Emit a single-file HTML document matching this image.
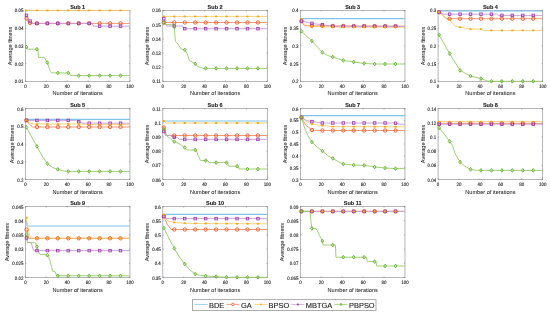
<!DOCTYPE html><html><head><meta charset="utf-8"><style>html,body{margin:0;padding:0;background:#fff;}svg{display:block;will-change:transform;}text{font-family:"Liberation Sans",sans-serif;fill:#262626;stroke-linejoin:round;}.tk{text-rendering:geometricPrecision;font-size:4.45px;fill:#222;stroke:#222;stroke-width:0.1px;}.lb{font-size:5.6px;fill:#2a2a2a;stroke:#2a2a2a;stroke-width:0.05px;}.tt{font-size:5.5px;font-weight:bold;fill:#222;stroke:#222;stroke-width:0.12px;}.lg{font-size:7.45px;fill:#222;stroke:#222;stroke-width:0.12px;}</style></head><body>
<svg width="550" height="315" viewBox="0 0 550 315">
<rect width="550" height="315" fill="#fff"/>
<rect x="25.4" y="10.4" width="104.55" height="71" fill="none" stroke="#9d9da4" stroke-width="0.75"/>
<text class="tk" transform="translate(25.4 88.2) scale(1 1.12)" text-anchor="middle">0</text>
<text class="tk" transform="translate(46.31 88.2) scale(1 1.12)" text-anchor="middle">20</text>
<text class="tk" transform="translate(67.22 88.2) scale(1 1.12)" text-anchor="middle">40</text>
<text class="tk" transform="translate(88.13 88.2) scale(1 1.12)" text-anchor="middle">60</text>
<text class="tk" transform="translate(109.04 88.2) scale(1 1.12)" text-anchor="middle">80</text>
<text class="tk" transform="translate(129.95 88.2) scale(1 1.12)" text-anchor="middle">100</text>
<text class="tk" transform="translate(23.4 12.4) scale(1 1.12)" text-anchor="end">0.05</text>
<text class="tk" transform="translate(23.4 30.15) scale(1 1.12)" text-anchor="end">0.04</text>
<text class="tk" transform="translate(23.4 47.9) scale(1 1.12)" text-anchor="end">0.03</text>
<text class="tk" transform="translate(23.4 65.65) scale(1 1.12)" text-anchor="end">0.02</text>
<text class="tk" transform="translate(23.4 83.4) scale(1 1.12)" text-anchor="end">0.01</text>
<path d="M25.4 81.4v-1M25.4 10.4v1M46.31 81.4v-1M46.31 10.4v1M67.22 81.4v-1M67.22 10.4v1M88.13 81.4v-1M88.13 10.4v1M109.04 81.4v-1M109.04 10.4v1M129.95 81.4v-1M129.95 10.4v1M25.4 10.4h1M129.95 10.4h-1M25.4 28.15h1M129.95 28.15h-1M25.4 45.9h1M129.95 45.9h-1M25.4 63.65h1M129.95 63.65h-1M25.4 81.4h1M129.95 81.4h-1" stroke="#6a6a6a" stroke-width="0.5" fill="none"/>
<g fill="none" stroke-linejoin="round">
<path d="M26.45 18.5 27.49 20.5 28.54 22.5 30.63 23.4 129.95 23.4" stroke="#f4875c" stroke-width="0.85"/>
<path d="M26.45 10.4 129.95 10.4" stroke="#f9cb62" stroke-width="0.85"/>
<path d="M26.45 15.4 27.49 18.5 29.06 21.1 30.63 23.4 92.31 23.4 93.36 26.2 129.95 26.2" stroke="#cb98dc" stroke-width="0.9"/>
<path d="M26.45 47 27.49 49.2 37.95 49.2 38.47 57.4 44.22 57.4 47.36 62.6 50.49 71.8 51.54 72.9 69.31 72.9 70.36 75.6 129.95 75.6" stroke="#96cc66" stroke-width="0.9"/>
</g>
<circle cx="26.45" cy="18.5" r="1.7" fill="none" stroke="#ea5a28" stroke-width="0.9"/>
<circle cx="36.9" cy="23.4" r="1.7" fill="none" stroke="#ea5a28" stroke-width="0.9"/>
<circle cx="47.36" cy="23.4" r="1.7" fill="none" stroke="#ea5a28" stroke-width="0.9"/>
<circle cx="57.81" cy="23.4" r="1.7" fill="none" stroke="#ea5a28" stroke-width="0.9"/>
<circle cx="68.27" cy="23.4" r="1.7" fill="none" stroke="#ea5a28" stroke-width="0.9"/>
<circle cx="78.72" cy="23.4" r="1.7" fill="none" stroke="#ea5a28" stroke-width="0.9"/>
<circle cx="89.18" cy="23.4" r="1.7" fill="none" stroke="#ea5a28" stroke-width="0.9"/>
<circle cx="99.63" cy="23.4" r="1.7" fill="none" stroke="#ea5a28" stroke-width="0.9"/>
<circle cx="110.09" cy="23.4" r="1.7" fill="none" stroke="#ea5a28" stroke-width="0.9"/>
<circle cx="120.54" cy="23.4" r="1.7" fill="none" stroke="#ea5a28" stroke-width="0.9"/>
<rect x="25.2" y="14.15" width="2.5" height="2.5" fill="none" stroke="#9a3aa8" stroke-width="0.85"/>
<rect x="35.65" y="22.15" width="2.5" height="2.5" fill="none" stroke="#9a3aa8" stroke-width="0.85"/>
<rect x="46.11" y="22.15" width="2.5" height="2.5" fill="none" stroke="#9a3aa8" stroke-width="0.85"/>
<rect x="56.56" y="22.15" width="2.5" height="2.5" fill="none" stroke="#9a3aa8" stroke-width="0.85"/>
<rect x="67.02" y="22.15" width="2.5" height="2.5" fill="none" stroke="#9a3aa8" stroke-width="0.85"/>
<rect x="77.47" y="22.15" width="2.5" height="2.5" fill="none" stroke="#9a3aa8" stroke-width="0.85"/>
<rect x="87.93" y="22.15" width="2.5" height="2.5" fill="none" stroke="#9a3aa8" stroke-width="0.85"/>
<rect x="98.38" y="24.95" width="2.5" height="2.5" fill="none" stroke="#9a3aa8" stroke-width="0.85"/>
<rect x="108.84" y="24.95" width="2.5" height="2.5" fill="none" stroke="#9a3aa8" stroke-width="0.85"/>
<rect x="119.29" y="24.95" width="2.5" height="2.5" fill="none" stroke="#9a3aa8" stroke-width="0.85"/>
<ellipse cx="26.45" cy="10.4" rx="1.35" ry="0.95" fill="#f0a818"/>
<ellipse cx="36.9" cy="10.4" rx="1.35" ry="0.95" fill="#f0a818"/>
<ellipse cx="47.36" cy="10.4" rx="1.35" ry="0.95" fill="#f0a818"/>
<ellipse cx="57.81" cy="10.4" rx="1.35" ry="0.95" fill="#f0a818"/>
<ellipse cx="68.27" cy="10.4" rx="1.35" ry="0.95" fill="#f0a818"/>
<ellipse cx="78.72" cy="10.4" rx="1.35" ry="0.95" fill="#f0a818"/>
<ellipse cx="89.18" cy="10.4" rx="1.35" ry="0.95" fill="#f0a818"/>
<ellipse cx="99.63" cy="10.4" rx="1.35" ry="0.95" fill="#f0a818"/>
<ellipse cx="110.09" cy="10.4" rx="1.35" ry="0.95" fill="#f0a818"/>
<ellipse cx="120.54" cy="10.4" rx="1.35" ry="0.95" fill="#f0a818"/>
<path d="M26.45 45.15L27.8 47L26.45 48.85L25.1 47Z" fill="none" stroke="#62b02c" stroke-width="0.9"/>
<path d="M36.9 47.35L38.25 49.2L36.9 51.05L35.55 49.2Z" fill="none" stroke="#62b02c" stroke-width="0.9"/>
<path d="M47.36 60.75L48.71 62.6L47.36 64.45L46.01 62.6Z" fill="none" stroke="#62b02c" stroke-width="0.9"/>
<path d="M57.81 71.05L59.16 72.9L57.81 74.75L56.46 72.9Z" fill="none" stroke="#62b02c" stroke-width="0.9"/>
<path d="M68.27 71.05L69.62 72.9L68.27 74.75L66.92 72.9Z" fill="none" stroke="#62b02c" stroke-width="0.9"/>
<path d="M78.72 73.75L80.07 75.6L78.72 77.45L77.37 75.6Z" fill="none" stroke="#62b02c" stroke-width="0.9"/>
<path d="M89.18 73.75L90.53 75.6L89.18 77.45L87.83 75.6Z" fill="none" stroke="#62b02c" stroke-width="0.9"/>
<path d="M99.63 73.75L100.98 75.6L99.63 77.45L98.28 75.6Z" fill="none" stroke="#62b02c" stroke-width="0.9"/>
<path d="M110.09 73.75L111.44 75.6L110.09 77.45L108.74 75.6Z" fill="none" stroke="#62b02c" stroke-width="0.9"/>
<path d="M120.54 73.75L121.89 75.6L120.54 77.45L119.19 75.6Z" fill="none" stroke="#62b02c" stroke-width="0.9"/>
<circle cx="30.1" cy="22.9" r="1.7" fill="none" stroke="#ea5a28" stroke-width="0.9"/>
<rect x="28.85" y="19.85" width="2.5" height="2.5" fill="none" stroke="#9a3aa8" stroke-width="0.85"/>
<text class="tt" transform="translate(77.67 8.55) scale(1 1.13)" text-anchor="middle">Sub 1</text>
<text class="lb" transform="translate(77.67 95.4) scale(1 1.07)" text-anchor="middle">Number of iterations</text>
<text class="lb" transform="translate(11.84 45.9) rotate(-90)" text-anchor="middle">Average fitness</text>
<rect x="162.8" y="10.4" width="104.55" height="71" fill="none" stroke="#9d9da4" stroke-width="0.75"/>
<text class="tk" transform="translate(162.8 88.2) scale(1 1.12)" text-anchor="middle">0</text>
<text class="tk" transform="translate(183.71 88.2) scale(1 1.12)" text-anchor="middle">20</text>
<text class="tk" transform="translate(204.62 88.2) scale(1 1.12)" text-anchor="middle">40</text>
<text class="tk" transform="translate(225.53 88.2) scale(1 1.12)" text-anchor="middle">60</text>
<text class="tk" transform="translate(246.44 88.2) scale(1 1.12)" text-anchor="middle">80</text>
<text class="tk" transform="translate(267.35 88.2) scale(1 1.12)" text-anchor="middle">100</text>
<text class="tk" transform="translate(160.8 12.4) scale(1 1.12)" text-anchor="end">0.16</text>
<text class="tk" transform="translate(160.8 26.6) scale(1 1.12)" text-anchor="end">0.15</text>
<text class="tk" transform="translate(160.8 40.8) scale(1 1.12)" text-anchor="end">0.14</text>
<text class="tk" transform="translate(160.8 55) scale(1 1.12)" text-anchor="end">0.13</text>
<text class="tk" transform="translate(160.8 69.2) scale(1 1.12)" text-anchor="end">0.12</text>
<text class="tk" transform="translate(160.8 83.4) scale(1 1.12)" text-anchor="end">0.11</text>
<path d="M162.8 81.4v-1M162.8 10.4v1M183.71 81.4v-1M183.71 10.4v1M204.62 81.4v-1M204.62 10.4v1M225.53 81.4v-1M225.53 10.4v1M246.44 81.4v-1M246.44 10.4v1M267.35 81.4v-1M267.35 10.4v1M162.8 10.4h1M267.35 10.4h-1M162.8 24.6h1M267.35 24.6h-1M162.8 38.8h1M267.35 38.8h-1M162.8 53h1M267.35 53h-1M162.8 67.2h1M267.35 67.2h-1M162.8 81.4h1M267.35 81.4h-1" stroke="#6a6a6a" stroke-width="0.5" fill="none"/>
<g fill="none" stroke-linejoin="round">
<path d="M163.85 22.5 267.35 22.5" stroke="#f4875c" stroke-width="0.85"/>
<path d="M163.85 16.4 267.35 16.4" stroke="#f9cb62" stroke-width="0.85"/>
<path d="M163.85 18.8 166.46 26 182.66 26 183.71 28.7 267.35 28.7" stroke="#cb98dc" stroke-width="0.9"/>
<path d="M163.85 22.6 165.41 24.5 173.25 24.8 174.3 26.6 175.35 41.5 177.96 44 181.1 49 184.76 49.8 186.85 53 189.46 60.5 195.21 63.8 197.82 66.3 202.53 68.2 205.67 68.4 267.35 68.4" stroke="#96cc66" stroke-width="0.9"/>
</g>
<circle cx="163.85" cy="22.5" r="1.7" fill="none" stroke="#ea5a28" stroke-width="0.9"/>
<circle cx="174.3" cy="22.5" r="1.7" fill="none" stroke="#ea5a28" stroke-width="0.9"/>
<circle cx="184.76" cy="22.5" r="1.7" fill="none" stroke="#ea5a28" stroke-width="0.9"/>
<circle cx="195.21" cy="22.5" r="1.7" fill="none" stroke="#ea5a28" stroke-width="0.9"/>
<circle cx="205.67" cy="22.5" r="1.7" fill="none" stroke="#ea5a28" stroke-width="0.9"/>
<circle cx="216.12" cy="22.5" r="1.7" fill="none" stroke="#ea5a28" stroke-width="0.9"/>
<circle cx="226.58" cy="22.5" r="1.7" fill="none" stroke="#ea5a28" stroke-width="0.9"/>
<circle cx="237.03" cy="22.5" r="1.7" fill="none" stroke="#ea5a28" stroke-width="0.9"/>
<circle cx="247.49" cy="22.5" r="1.7" fill="none" stroke="#ea5a28" stroke-width="0.9"/>
<circle cx="257.94" cy="22.5" r="1.7" fill="none" stroke="#ea5a28" stroke-width="0.9"/>
<rect x="162.6" y="17.55" width="2.5" height="2.5" fill="none" stroke="#9a3aa8" stroke-width="0.85"/>
<rect x="173.05" y="24.75" width="2.5" height="2.5" fill="none" stroke="#9a3aa8" stroke-width="0.85"/>
<rect x="183.51" y="27.45" width="2.5" height="2.5" fill="none" stroke="#9a3aa8" stroke-width="0.85"/>
<rect x="193.96" y="27.45" width="2.5" height="2.5" fill="none" stroke="#9a3aa8" stroke-width="0.85"/>
<rect x="204.42" y="27.45" width="2.5" height="2.5" fill="none" stroke="#9a3aa8" stroke-width="0.85"/>
<rect x="214.87" y="27.45" width="2.5" height="2.5" fill="none" stroke="#9a3aa8" stroke-width="0.85"/>
<rect x="225.33" y="27.45" width="2.5" height="2.5" fill="none" stroke="#9a3aa8" stroke-width="0.85"/>
<rect x="235.78" y="27.45" width="2.5" height="2.5" fill="none" stroke="#9a3aa8" stroke-width="0.85"/>
<rect x="246.24" y="27.45" width="2.5" height="2.5" fill="none" stroke="#9a3aa8" stroke-width="0.85"/>
<rect x="256.69" y="27.45" width="2.5" height="2.5" fill="none" stroke="#9a3aa8" stroke-width="0.85"/>
<ellipse cx="163.85" cy="16.4" rx="1.35" ry="0.95" fill="#f0a818"/>
<ellipse cx="174.3" cy="16.4" rx="1.35" ry="0.95" fill="#f0a818"/>
<ellipse cx="184.76" cy="16.4" rx="1.35" ry="0.95" fill="#f0a818"/>
<ellipse cx="195.21" cy="16.4" rx="1.35" ry="0.95" fill="#f0a818"/>
<ellipse cx="205.67" cy="16.4" rx="1.35" ry="0.95" fill="#f0a818"/>
<ellipse cx="216.12" cy="16.4" rx="1.35" ry="0.95" fill="#f0a818"/>
<ellipse cx="226.58" cy="16.4" rx="1.35" ry="0.95" fill="#f0a818"/>
<ellipse cx="237.03" cy="16.4" rx="1.35" ry="0.95" fill="#f0a818"/>
<ellipse cx="247.49" cy="16.4" rx="1.35" ry="0.95" fill="#f0a818"/>
<ellipse cx="257.94" cy="16.4" rx="1.35" ry="0.95" fill="#f0a818"/>
<path d="M163.85 20.75L165.2 22.6L163.85 24.45L162.5 22.6Z" fill="none" stroke="#62b02c" stroke-width="0.9"/>
<path d="M174.3 24.75L175.65 26.6L174.3 28.45L172.95 26.6Z" fill="none" stroke="#62b02c" stroke-width="0.9"/>
<path d="M184.76 47.95L186.11 49.8L184.76 51.65L183.41 49.8Z" fill="none" stroke="#62b02c" stroke-width="0.9"/>
<path d="M195.21 61.95L196.56 63.8L195.21 65.65L193.86 63.8Z" fill="none" stroke="#62b02c" stroke-width="0.9"/>
<path d="M205.67 66.55L207.02 68.4L205.67 70.25L204.32 68.4Z" fill="none" stroke="#62b02c" stroke-width="0.9"/>
<path d="M216.12 66.55L217.47 68.4L216.12 70.25L214.77 68.4Z" fill="none" stroke="#62b02c" stroke-width="0.9"/>
<path d="M226.58 66.55L227.93 68.4L226.58 70.25L225.23 68.4Z" fill="none" stroke="#62b02c" stroke-width="0.9"/>
<path d="M237.03 66.55L238.38 68.4L237.03 70.25L235.68 68.4Z" fill="none" stroke="#62b02c" stroke-width="0.9"/>
<path d="M247.49 66.55L248.84 68.4L247.49 70.25L246.14 68.4Z" fill="none" stroke="#62b02c" stroke-width="0.9"/>
<path d="M257.94 66.55L259.29 68.4L257.94 70.25L256.59 68.4Z" fill="none" stroke="#62b02c" stroke-width="0.9"/>
<text class="tt" transform="translate(215.08 8.55) scale(1 1.13)" text-anchor="middle">Sub 2</text>
<text class="lb" transform="translate(215.08 95.4) scale(1 1.07)" text-anchor="middle">Number of iterations</text>
<text class="lb" transform="translate(149.24 45.9) rotate(-90)" text-anchor="middle">Average fitness</text>
<rect x="300.4" y="10.4" width="104.55" height="71" fill="none" stroke="#9d9da4" stroke-width="0.75"/>
<text class="tk" transform="translate(300.4 88.2) scale(1 1.12)" text-anchor="middle">0</text>
<text class="tk" transform="translate(321.31 88.2) scale(1 1.12)" text-anchor="middle">20</text>
<text class="tk" transform="translate(342.22 88.2) scale(1 1.12)" text-anchor="middle">40</text>
<text class="tk" transform="translate(363.13 88.2) scale(1 1.12)" text-anchor="middle">60</text>
<text class="tk" transform="translate(384.04 88.2) scale(1 1.12)" text-anchor="middle">80</text>
<text class="tk" transform="translate(404.95 88.2) scale(1 1.12)" text-anchor="middle">100</text>
<text class="tk" transform="translate(298.4 12.4) scale(1 1.12)" text-anchor="end">0.4</text>
<text class="tk" transform="translate(298.4 30.15) scale(1 1.12)" text-anchor="end">0.35</text>
<text class="tk" transform="translate(298.4 47.9) scale(1 1.12)" text-anchor="end">0.3</text>
<text class="tk" transform="translate(298.4 65.65) scale(1 1.12)" text-anchor="end">0.25</text>
<text class="tk" transform="translate(298.4 83.4) scale(1 1.12)" text-anchor="end">0.2</text>
<path d="M300.4 81.4v-1M300.4 10.4v1M321.31 81.4v-1M321.31 10.4v1M342.22 81.4v-1M342.22 10.4v1M363.13 81.4v-1M363.13 10.4v1M384.04 81.4v-1M384.04 10.4v1M404.95 81.4v-1M404.95 10.4v1M300.4 10.4h1M404.95 10.4h-1M300.4 28.15h1M404.95 28.15h-1M300.4 45.9h1M404.95 45.9h-1M300.4 63.65h1M404.95 63.65h-1M300.4 81.4h1M404.95 81.4h-1" stroke="#6a6a6a" stroke-width="0.5" fill="none"/>
<g fill="none" stroke-linejoin="round">
<path d="M301.45 18.6 404.95 18.6" stroke="#80c4ec" stroke-width="1.1"/>
<path d="M301.45 21.1 302.49 23.5 304.58 25.8 404.95 26.2" stroke="#f4875c" stroke-width="0.85"/>
<path d="M301.45 18.6 302.49 22 304.58 24.8 310.85 26 321.31 26.8 342.22 27.2 404.95 27.2" stroke="#f9cb62" stroke-width="0.85"/>
<path d="M301.45 21.1 311.9 23.4 322.36 24.8 332.81 26.3 404.95 26.4" stroke="#cb98dc" stroke-width="0.9"/>
<path d="M301.45 31.4 311.9 41 322.36 52.4 327.58 55.5 332.81 57 343.27 60.4 353.72 62 364.18 63.4 374.63 64 404.95 64" stroke="#96cc66" stroke-width="0.9"/>
</g>
<circle cx="301.45" cy="21.1" r="1.7" fill="none" stroke="#ea5a28" stroke-width="0.9"/>
<circle cx="311.9" cy="25.83" r="1.7" fill="none" stroke="#ea5a28" stroke-width="0.9"/>
<circle cx="322.36" cy="25.87" r="1.7" fill="none" stroke="#ea5a28" stroke-width="0.9"/>
<circle cx="332.81" cy="25.91" r="1.7" fill="none" stroke="#ea5a28" stroke-width="0.9"/>
<circle cx="343.27" cy="25.95" r="1.7" fill="none" stroke="#ea5a28" stroke-width="0.9"/>
<circle cx="353.72" cy="26" r="1.7" fill="none" stroke="#ea5a28" stroke-width="0.9"/>
<circle cx="364.18" cy="26.04" r="1.7" fill="none" stroke="#ea5a28" stroke-width="0.9"/>
<circle cx="374.63" cy="26.08" r="1.7" fill="none" stroke="#ea5a28" stroke-width="0.9"/>
<circle cx="385.09" cy="26.12" r="1.7" fill="none" stroke="#ea5a28" stroke-width="0.9"/>
<circle cx="395.54" cy="26.16" r="1.7" fill="none" stroke="#ea5a28" stroke-width="0.9"/>
<rect x="300.2" y="19.85" width="2.5" height="2.5" fill="none" stroke="#9a3aa8" stroke-width="0.85"/>
<rect x="310.65" y="22.15" width="2.5" height="2.5" fill="none" stroke="#9a3aa8" stroke-width="0.85"/>
<rect x="321.11" y="23.55" width="2.5" height="2.5" fill="none" stroke="#9a3aa8" stroke-width="0.85"/>
<rect x="331.56" y="25.05" width="2.5" height="2.5" fill="none" stroke="#9a3aa8" stroke-width="0.85"/>
<rect x="342.02" y="25.06" width="2.5" height="2.5" fill="none" stroke="#9a3aa8" stroke-width="0.85"/>
<rect x="352.47" y="25.08" width="2.5" height="2.5" fill="none" stroke="#9a3aa8" stroke-width="0.85"/>
<rect x="362.93" y="25.09" width="2.5" height="2.5" fill="none" stroke="#9a3aa8" stroke-width="0.85"/>
<rect x="373.38" y="25.11" width="2.5" height="2.5" fill="none" stroke="#9a3aa8" stroke-width="0.85"/>
<rect x="383.84" y="25.12" width="2.5" height="2.5" fill="none" stroke="#9a3aa8" stroke-width="0.85"/>
<rect x="394.29" y="25.14" width="2.5" height="2.5" fill="none" stroke="#9a3aa8" stroke-width="0.85"/>
<ellipse cx="301.45" cy="18.6" rx="1.35" ry="0.95" fill="#f0a818"/>
<ellipse cx="311.9" cy="26.08" rx="1.35" ry="0.95" fill="#f0a818"/>
<ellipse cx="322.36" cy="26.82" rx="1.35" ry="0.95" fill="#f0a818"/>
<ellipse cx="332.81" cy="27.02" rx="1.35" ry="0.95" fill="#f0a818"/>
<ellipse cx="343.27" cy="27.2" rx="1.35" ry="0.95" fill="#f0a818"/>
<ellipse cx="353.72" cy="27.2" rx="1.35" ry="0.95" fill="#f0a818"/>
<ellipse cx="364.18" cy="27.2" rx="1.35" ry="0.95" fill="#f0a818"/>
<ellipse cx="374.63" cy="27.2" rx="1.35" ry="0.95" fill="#f0a818"/>
<ellipse cx="385.09" cy="27.2" rx="1.35" ry="0.95" fill="#f0a818"/>
<ellipse cx="395.54" cy="27.2" rx="1.35" ry="0.95" fill="#f0a818"/>
<path d="M301.45 29.55L302.8 31.4L301.45 33.25L300.1 31.4Z" fill="none" stroke="#62b02c" stroke-width="0.9"/>
<path d="M311.9 39.15L313.25 41L311.9 42.85L310.55 41Z" fill="none" stroke="#62b02c" stroke-width="0.9"/>
<path d="M322.36 50.55L323.71 52.4L322.36 54.25L321.01 52.4Z" fill="none" stroke="#62b02c" stroke-width="0.9"/>
<path d="M332.81 55.15L334.16 57L332.81 58.85L331.46 57Z" fill="none" stroke="#62b02c" stroke-width="0.9"/>
<path d="M343.27 58.55L344.62 60.4L343.27 62.25L341.92 60.4Z" fill="none" stroke="#62b02c" stroke-width="0.9"/>
<path d="M353.72 60.15L355.07 62L353.72 63.85L352.37 62Z" fill="none" stroke="#62b02c" stroke-width="0.9"/>
<path d="M364.18 61.55L365.53 63.4L364.18 65.25L362.83 63.4Z" fill="none" stroke="#62b02c" stroke-width="0.9"/>
<path d="M374.63 62.15L375.98 64L374.63 65.85L373.28 64Z" fill="none" stroke="#62b02c" stroke-width="0.9"/>
<path d="M385.09 62.15L386.44 64L385.09 65.85L383.74 64Z" fill="none" stroke="#62b02c" stroke-width="0.9"/>
<path d="M395.54 62.15L396.89 64L395.54 65.85L394.19 64Z" fill="none" stroke="#62b02c" stroke-width="0.9"/>
<text class="tt" transform="translate(352.67 8.55) scale(1 1.13)" text-anchor="middle">Sub 3</text>
<text class="lb" transform="translate(352.67 95.4) scale(1 1.07)" text-anchor="middle">Number of iterations</text>
<text class="lb" transform="translate(286.84 45.9) rotate(-90)" text-anchor="middle">Average fitness</text>
<rect x="438.1" y="10.4" width="104.55" height="71" fill="none" stroke="#9d9da4" stroke-width="0.75"/>
<text class="tk" transform="translate(438.1 88.2) scale(1 1.12)" text-anchor="middle">0</text>
<text class="tk" transform="translate(459.01 88.2) scale(1 1.12)" text-anchor="middle">20</text>
<text class="tk" transform="translate(479.92 88.2) scale(1 1.12)" text-anchor="middle">40</text>
<text class="tk" transform="translate(500.83 88.2) scale(1 1.12)" text-anchor="middle">60</text>
<text class="tk" transform="translate(521.74 88.2) scale(1 1.12)" text-anchor="middle">80</text>
<text class="tk" transform="translate(542.65 88.2) scale(1 1.12)" text-anchor="middle">100</text>
<text class="tk" transform="translate(436.1 12.4) scale(1 1.12)" text-anchor="end">0.3</text>
<text class="tk" transform="translate(436.1 30.15) scale(1 1.12)" text-anchor="end">0.25</text>
<text class="tk" transform="translate(436.1 47.9) scale(1 1.12)" text-anchor="end">0.2</text>
<text class="tk" transform="translate(436.1 65.65) scale(1 1.12)" text-anchor="end">0.15</text>
<text class="tk" transform="translate(436.1 83.4) scale(1 1.12)" text-anchor="end">0.1</text>
<path d="M438.1 81.4v-1M438.1 10.4v1M459.01 81.4v-1M459.01 10.4v1M479.92 81.4v-1M479.92 10.4v1M500.83 81.4v-1M500.83 10.4v1M521.74 81.4v-1M521.74 10.4v1M542.65 81.4v-1M542.65 10.4v1M438.1 10.4h1M542.65 10.4h-1M438.1 28.15h1M542.65 28.15h-1M438.1 45.9h1M542.65 45.9h-1M438.1 63.65h1M542.65 63.65h-1M438.1 81.4h1M542.65 81.4h-1" stroke="#6a6a6a" stroke-width="0.5" fill="none"/>
<g fill="none" stroke-linejoin="round">
<path d="M439.15 11 542.65 11" stroke="#80c4ec" stroke-width="1.1"/>
<path d="M439.15 12.3 442.28 15 446.46 18.7 542.65 18.7" stroke="#f4875c" stroke-width="0.85"/>
<path d="M439.15 12.3 444.37 17 449.6 20 454.83 26 460.06 27.2 470.51 29.1 480.97 29.1 483.06 30.4 542.65 30.4" stroke="#f9cb62" stroke-width="0.85"/>
<path d="M439.15 12.3 443.33 14.2 496.65 14.2 498.74 15.4 542.65 15.4" stroke="#cb98dc" stroke-width="0.9"/>
<path d="M439.15 35 449.6 53.6 460.06 70.4 470.51 76 480.97 78.6 487.24 81 491.42 81.3 542.65 81.3" stroke="#96cc66" stroke-width="0.9"/>
</g>
<circle cx="439.15" cy="12.3" r="1.7" fill="none" stroke="#ea5a28" stroke-width="0.9"/>
<circle cx="449.6" cy="18.7" r="1.7" fill="none" stroke="#ea5a28" stroke-width="0.9"/>
<circle cx="460.06" cy="18.7" r="1.7" fill="none" stroke="#ea5a28" stroke-width="0.9"/>
<circle cx="470.51" cy="18.7" r="1.7" fill="none" stroke="#ea5a28" stroke-width="0.9"/>
<circle cx="480.97" cy="18.7" r="1.7" fill="none" stroke="#ea5a28" stroke-width="0.9"/>
<circle cx="491.42" cy="18.7" r="1.7" fill="none" stroke="#ea5a28" stroke-width="0.9"/>
<circle cx="501.88" cy="18.7" r="1.7" fill="none" stroke="#ea5a28" stroke-width="0.9"/>
<circle cx="512.33" cy="18.7" r="1.7" fill="none" stroke="#ea5a28" stroke-width="0.9"/>
<circle cx="522.79" cy="18.7" r="1.7" fill="none" stroke="#ea5a28" stroke-width="0.9"/>
<circle cx="533.24" cy="18.7" r="1.7" fill="none" stroke="#ea5a28" stroke-width="0.9"/>
<rect x="437.9" y="11.05" width="2.5" height="2.5" fill="none" stroke="#9a3aa8" stroke-width="0.85"/>
<rect x="448.35" y="12.95" width="2.5" height="2.5" fill="none" stroke="#9a3aa8" stroke-width="0.85"/>
<rect x="458.81" y="12.95" width="2.5" height="2.5" fill="none" stroke="#9a3aa8" stroke-width="0.85"/>
<rect x="469.26" y="12.95" width="2.5" height="2.5" fill="none" stroke="#9a3aa8" stroke-width="0.85"/>
<rect x="479.72" y="12.95" width="2.5" height="2.5" fill="none" stroke="#9a3aa8" stroke-width="0.85"/>
<rect x="490.17" y="12.95" width="2.5" height="2.5" fill="none" stroke="#9a3aa8" stroke-width="0.85"/>
<rect x="500.63" y="14.15" width="2.5" height="2.5" fill="none" stroke="#9a3aa8" stroke-width="0.85"/>
<rect x="511.08" y="14.15" width="2.5" height="2.5" fill="none" stroke="#9a3aa8" stroke-width="0.85"/>
<rect x="521.54" y="14.15" width="2.5" height="2.5" fill="none" stroke="#9a3aa8" stroke-width="0.85"/>
<rect x="531.99" y="14.15" width="2.5" height="2.5" fill="none" stroke="#9a3aa8" stroke-width="0.85"/>
<ellipse cx="439.15" cy="12.3" rx="1.35" ry="0.95" fill="#f0a818"/>
<ellipse cx="449.6" cy="20" rx="1.35" ry="0.95" fill="#f0a818"/>
<ellipse cx="460.06" cy="27.2" rx="1.35" ry="0.95" fill="#f0a818"/>
<ellipse cx="470.51" cy="29.1" rx="1.35" ry="0.95" fill="#f0a818"/>
<ellipse cx="480.97" cy="29.1" rx="1.35" ry="0.95" fill="#f0a818"/>
<ellipse cx="491.42" cy="30.4" rx="1.35" ry="0.95" fill="#f0a818"/>
<ellipse cx="501.88" cy="30.4" rx="1.35" ry="0.95" fill="#f0a818"/>
<ellipse cx="512.33" cy="30.4" rx="1.35" ry="0.95" fill="#f0a818"/>
<ellipse cx="522.79" cy="30.4" rx="1.35" ry="0.95" fill="#f0a818"/>
<ellipse cx="533.24" cy="30.4" rx="1.35" ry="0.95" fill="#f0a818"/>
<path d="M439.15 33.15L440.5 35L439.15 36.85L437.8 35Z" fill="none" stroke="#62b02c" stroke-width="0.9"/>
<path d="M449.6 51.75L450.95 53.6L449.6 55.45L448.25 53.6Z" fill="none" stroke="#62b02c" stroke-width="0.9"/>
<path d="M460.06 68.55L461.41 70.4L460.06 72.25L458.71 70.4Z" fill="none" stroke="#62b02c" stroke-width="0.9"/>
<path d="M470.51 74.15L471.86 76L470.51 77.85L469.16 76Z" fill="none" stroke="#62b02c" stroke-width="0.9"/>
<path d="M480.97 76.75L482.32 78.6L480.97 80.45L479.62 78.6Z" fill="none" stroke="#62b02c" stroke-width="0.9"/>
<path d="M491.42 79.45L492.77 81.3L491.42 83.15L490.07 81.3Z" fill="none" stroke="#62b02c" stroke-width="0.9"/>
<path d="M501.88 79.45L503.23 81.3L501.88 83.15L500.53 81.3Z" fill="none" stroke="#62b02c" stroke-width="0.9"/>
<path d="M512.33 79.45L513.68 81.3L512.33 83.15L510.98 81.3Z" fill="none" stroke="#62b02c" stroke-width="0.9"/>
<path d="M522.79 79.45L524.14 81.3L522.79 83.15L521.44 81.3Z" fill="none" stroke="#62b02c" stroke-width="0.9"/>
<path d="M533.24 79.45L534.59 81.3L533.24 83.15L531.89 81.3Z" fill="none" stroke="#62b02c" stroke-width="0.9"/>
<text class="tt" transform="translate(490.38 8.55) scale(1 1.13)" text-anchor="middle">Sub 4</text>
<text class="lb" transform="translate(490.38 95.4) scale(1 1.07)" text-anchor="middle">Number of iterations</text>
<text class="lb" transform="translate(424.54 45.9) rotate(-90)" text-anchor="middle">Average fitness</text>
<rect x="25.4" y="108.5" width="104.55" height="71" fill="none" stroke="#9d9da4" stroke-width="0.75"/>
<text class="tk" transform="translate(25.4 186.3) scale(1 1.12)" text-anchor="middle">0</text>
<text class="tk" transform="translate(46.31 186.3) scale(1 1.12)" text-anchor="middle">20</text>
<text class="tk" transform="translate(67.22 186.3) scale(1 1.12)" text-anchor="middle">40</text>
<text class="tk" transform="translate(88.13 186.3) scale(1 1.12)" text-anchor="middle">60</text>
<text class="tk" transform="translate(109.04 186.3) scale(1 1.12)" text-anchor="middle">80</text>
<text class="tk" transform="translate(129.95 186.3) scale(1 1.12)" text-anchor="middle">100</text>
<text class="tk" transform="translate(23.4 110.5) scale(1 1.12)" text-anchor="end">0.6</text>
<text class="tk" transform="translate(23.4 128.25) scale(1 1.12)" text-anchor="end">0.5</text>
<text class="tk" transform="translate(23.4 146) scale(1 1.12)" text-anchor="end">0.4</text>
<text class="tk" transform="translate(23.4 163.75) scale(1 1.12)" text-anchor="end">0.3</text>
<text class="tk" transform="translate(23.4 181.5) scale(1 1.12)" text-anchor="end">0.2</text>
<path d="M25.4 179.5v-1M25.4 108.5v1M46.31 179.5v-1M46.31 108.5v1M67.22 179.5v-1M67.22 108.5v1M88.13 179.5v-1M88.13 108.5v1M109.04 179.5v-1M109.04 108.5v1M129.95 179.5v-1M129.95 108.5v1M25.4 108.5h1M129.95 108.5h-1M25.4 126.25h1M129.95 126.25h-1M25.4 144h1M129.95 144h-1M25.4 161.75h1M129.95 161.75h-1M25.4 179.5h1M129.95 179.5h-1" stroke="#6a6a6a" stroke-width="0.5" fill="none"/>
<g fill="none" stroke-linejoin="round">
<path d="M26.45 119.4 129.95 119.4" stroke="#80c4ec" stroke-width="1.1"/>
<path d="M26.45 120.4 29.58 124.5 32.72 127 129.95 127" stroke="#f4875c" stroke-width="0.85"/>
<path d="M26.45 120.4 29.58 123 33.76 124 81.86 124 83.95 124.6 129.95 124.6" stroke="#f9cb62" stroke-width="0.85"/>
<path d="M26.45 120.4 74.54 120.4 79.77 122 82.9 123.2 129.95 123.2" stroke="#cb98dc" stroke-width="0.9"/>
<path d="M26.45 127.4 31.67 137 36.9 146.4 42.13 156 47.36 163.6 52.58 167.5 57.81 169.4 63.04 171 68.27 171.4 129.95 171.4" stroke="#96cc66" stroke-width="0.9"/>
</g>
<circle cx="26.45" cy="120.4" r="1.7" fill="none" stroke="#ea5a28" stroke-width="0.9"/>
<circle cx="36.9" cy="127" r="1.7" fill="none" stroke="#ea5a28" stroke-width="0.9"/>
<circle cx="47.36" cy="127" r="1.7" fill="none" stroke="#ea5a28" stroke-width="0.9"/>
<circle cx="57.81" cy="127" r="1.7" fill="none" stroke="#ea5a28" stroke-width="0.9"/>
<circle cx="68.27" cy="127" r="1.7" fill="none" stroke="#ea5a28" stroke-width="0.9"/>
<circle cx="78.72" cy="127" r="1.7" fill="none" stroke="#ea5a28" stroke-width="0.9"/>
<circle cx="89.18" cy="127" r="1.7" fill="none" stroke="#ea5a28" stroke-width="0.9"/>
<circle cx="99.63" cy="127" r="1.7" fill="none" stroke="#ea5a28" stroke-width="0.9"/>
<circle cx="110.09" cy="127" r="1.7" fill="none" stroke="#ea5a28" stroke-width="0.9"/>
<circle cx="120.54" cy="127" r="1.7" fill="none" stroke="#ea5a28" stroke-width="0.9"/>
<rect x="25.2" y="119.15" width="2.5" height="2.5" fill="none" stroke="#9a3aa8" stroke-width="0.85"/>
<rect x="35.65" y="119.15" width="2.5" height="2.5" fill="none" stroke="#9a3aa8" stroke-width="0.85"/>
<rect x="46.11" y="119.15" width="2.5" height="2.5" fill="none" stroke="#9a3aa8" stroke-width="0.85"/>
<rect x="56.56" y="119.15" width="2.5" height="2.5" fill="none" stroke="#9a3aa8" stroke-width="0.85"/>
<rect x="67.02" y="119.15" width="2.5" height="2.5" fill="none" stroke="#9a3aa8" stroke-width="0.85"/>
<rect x="77.47" y="120.43" width="2.5" height="2.5" fill="none" stroke="#9a3aa8" stroke-width="0.85"/>
<rect x="87.93" y="121.95" width="2.5" height="2.5" fill="none" stroke="#9a3aa8" stroke-width="0.85"/>
<rect x="98.38" y="121.95" width="2.5" height="2.5" fill="none" stroke="#9a3aa8" stroke-width="0.85"/>
<rect x="108.84" y="121.95" width="2.5" height="2.5" fill="none" stroke="#9a3aa8" stroke-width="0.85"/>
<rect x="119.29" y="121.95" width="2.5" height="2.5" fill="none" stroke="#9a3aa8" stroke-width="0.85"/>
<ellipse cx="26.45" cy="120.4" rx="1.35" ry="0.95" fill="#f0a818"/>
<ellipse cx="36.9" cy="124" rx="1.35" ry="0.95" fill="#f0a818"/>
<ellipse cx="47.36" cy="124" rx="1.35" ry="0.95" fill="#f0a818"/>
<ellipse cx="57.81" cy="124" rx="1.35" ry="0.95" fill="#f0a818"/>
<ellipse cx="68.27" cy="124" rx="1.35" ry="0.95" fill="#f0a818"/>
<ellipse cx="78.72" cy="124" rx="1.35" ry="0.95" fill="#f0a818"/>
<ellipse cx="89.18" cy="124.6" rx="1.35" ry="0.95" fill="#f0a818"/>
<ellipse cx="99.63" cy="124.6" rx="1.35" ry="0.95" fill="#f0a818"/>
<ellipse cx="110.09" cy="124.6" rx="1.35" ry="0.95" fill="#f0a818"/>
<ellipse cx="120.54" cy="124.6" rx="1.35" ry="0.95" fill="#f0a818"/>
<path d="M26.45 125.55L27.8 127.4L26.45 129.25L25.1 127.4Z" fill="none" stroke="#62b02c" stroke-width="0.9"/>
<path d="M36.9 144.55L38.25 146.4L36.9 148.25L35.55 146.4Z" fill="none" stroke="#62b02c" stroke-width="0.9"/>
<path d="M47.36 161.75L48.71 163.6L47.36 165.45L46.01 163.6Z" fill="none" stroke="#62b02c" stroke-width="0.9"/>
<path d="M57.81 167.55L59.16 169.4L57.81 171.25L56.46 169.4Z" fill="none" stroke="#62b02c" stroke-width="0.9"/>
<path d="M68.27 169.55L69.62 171.4L68.27 173.25L66.92 171.4Z" fill="none" stroke="#62b02c" stroke-width="0.9"/>
<path d="M78.72 169.55L80.07 171.4L78.72 173.25L77.37 171.4Z" fill="none" stroke="#62b02c" stroke-width="0.9"/>
<path d="M89.18 169.55L90.53 171.4L89.18 173.25L87.83 171.4Z" fill="none" stroke="#62b02c" stroke-width="0.9"/>
<path d="M99.63 169.55L100.98 171.4L99.63 173.25L98.28 171.4Z" fill="none" stroke="#62b02c" stroke-width="0.9"/>
<path d="M110.09 169.55L111.44 171.4L110.09 173.25L108.74 171.4Z" fill="none" stroke="#62b02c" stroke-width="0.9"/>
<path d="M120.54 169.55L121.89 171.4L120.54 173.25L119.19 171.4Z" fill="none" stroke="#62b02c" stroke-width="0.9"/>
<text class="tt" transform="translate(77.67 106.65) scale(1 1.13)" text-anchor="middle">Sub 5</text>
<text class="lb" transform="translate(77.67 193.5) scale(1 1.07)" text-anchor="middle">Number of iterations</text>
<text class="lb" transform="translate(14.31 144) rotate(-90)" text-anchor="middle">Average fitness</text>
<rect x="162.8" y="108.5" width="104.55" height="71" fill="none" stroke="#9d9da4" stroke-width="0.75"/>
<text class="tk" transform="translate(162.8 186.3) scale(1 1.12)" text-anchor="middle">0</text>
<text class="tk" transform="translate(183.71 186.3) scale(1 1.12)" text-anchor="middle">20</text>
<text class="tk" transform="translate(204.62 186.3) scale(1 1.12)" text-anchor="middle">40</text>
<text class="tk" transform="translate(225.53 186.3) scale(1 1.12)" text-anchor="middle">60</text>
<text class="tk" transform="translate(246.44 186.3) scale(1 1.12)" text-anchor="middle">80</text>
<text class="tk" transform="translate(267.35 186.3) scale(1 1.12)" text-anchor="middle">100</text>
<text class="tk" transform="translate(160.8 110.5) scale(1 1.12)" text-anchor="end">0.11</text>
<text class="tk" transform="translate(160.8 124.7) scale(1 1.12)" text-anchor="end">0.1</text>
<text class="tk" transform="translate(160.8 138.9) scale(1 1.12)" text-anchor="end">0.09</text>
<text class="tk" transform="translate(160.8 153.1) scale(1 1.12)" text-anchor="end">0.08</text>
<text class="tk" transform="translate(160.8 167.3) scale(1 1.12)" text-anchor="end">0.07</text>
<text class="tk" transform="translate(160.8 181.5) scale(1 1.12)" text-anchor="end">0.06</text>
<path d="M162.8 179.5v-1M162.8 108.5v1M183.71 179.5v-1M183.71 108.5v1M204.62 179.5v-1M204.62 108.5v1M225.53 179.5v-1M225.53 108.5v1M246.44 179.5v-1M246.44 108.5v1M267.35 179.5v-1M267.35 108.5v1M162.8 108.5h1M267.35 108.5h-1M162.8 122.7h1M267.35 122.7h-1M162.8 136.9h1M267.35 136.9h-1M162.8 151.1h1M267.35 151.1h-1M162.8 165.3h1M267.35 165.3h-1M162.8 179.5h1M267.35 179.5h-1" stroke="#6a6a6a" stroke-width="0.5" fill="none"/>
<g fill="none" stroke-linejoin="round">
<path d="M163.85 121 267.35 121" stroke="#80c4ec" stroke-width="1.1"/>
<path d="M163.85 127.5 164.89 130 166.46 135.5 267.35 135.5" stroke="#f4875c" stroke-width="0.85"/>
<path d="M163.85 121 165.94 123 267.35 123" stroke="#f9cb62" stroke-width="0.85"/>
<path d="M163.85 131.4 165.41 135.5 170.12 135.5 173.25 137.3 177.44 137.4 179.53 139.4 267.35 139.4" stroke="#cb98dc" stroke-width="0.9"/>
<path d="M163.85 129.1 164.89 132.5 166.98 136 171.16 139.5 174.3 141.6 179.53 144 184.76 147.6 186.85 150 196.26 150 198.35 156 200.44 160.4 207.76 160.6 208.8 162.6 227.62 162.6 228.67 166.2 238.08 166.2 239.12 169 267.35 169" stroke="#96cc66" stroke-width="0.9"/>
</g>
<circle cx="163.85" cy="127.5" r="1.7" fill="none" stroke="#ea5a28" stroke-width="0.9"/>
<circle cx="174.3" cy="135.5" r="1.7" fill="none" stroke="#ea5a28" stroke-width="0.9"/>
<circle cx="184.76" cy="135.5" r="1.7" fill="none" stroke="#ea5a28" stroke-width="0.9"/>
<circle cx="195.21" cy="135.5" r="1.7" fill="none" stroke="#ea5a28" stroke-width="0.9"/>
<circle cx="205.67" cy="135.5" r="1.7" fill="none" stroke="#ea5a28" stroke-width="0.9"/>
<circle cx="216.12" cy="135.5" r="1.7" fill="none" stroke="#ea5a28" stroke-width="0.9"/>
<circle cx="226.58" cy="135.5" r="1.7" fill="none" stroke="#ea5a28" stroke-width="0.9"/>
<circle cx="237.03" cy="135.5" r="1.7" fill="none" stroke="#ea5a28" stroke-width="0.9"/>
<circle cx="247.49" cy="135.5" r="1.7" fill="none" stroke="#ea5a28" stroke-width="0.9"/>
<circle cx="257.94" cy="135.5" r="1.7" fill="none" stroke="#ea5a28" stroke-width="0.9"/>
<rect x="162.6" y="130.15" width="2.5" height="2.5" fill="none" stroke="#9a3aa8" stroke-width="0.85"/>
<rect x="173.05" y="136.08" width="2.5" height="2.5" fill="none" stroke="#9a3aa8" stroke-width="0.85"/>
<rect x="183.51" y="138.15" width="2.5" height="2.5" fill="none" stroke="#9a3aa8" stroke-width="0.85"/>
<rect x="193.96" y="138.15" width="2.5" height="2.5" fill="none" stroke="#9a3aa8" stroke-width="0.85"/>
<rect x="204.42" y="138.15" width="2.5" height="2.5" fill="none" stroke="#9a3aa8" stroke-width="0.85"/>
<rect x="214.87" y="138.15" width="2.5" height="2.5" fill="none" stroke="#9a3aa8" stroke-width="0.85"/>
<rect x="225.33" y="138.15" width="2.5" height="2.5" fill="none" stroke="#9a3aa8" stroke-width="0.85"/>
<rect x="235.78" y="138.15" width="2.5" height="2.5" fill="none" stroke="#9a3aa8" stroke-width="0.85"/>
<rect x="246.24" y="138.15" width="2.5" height="2.5" fill="none" stroke="#9a3aa8" stroke-width="0.85"/>
<rect x="256.69" y="138.15" width="2.5" height="2.5" fill="none" stroke="#9a3aa8" stroke-width="0.85"/>
<ellipse cx="163.85" cy="121" rx="1.35" ry="0.95" fill="#f0a818"/>
<ellipse cx="174.3" cy="123" rx="1.35" ry="0.95" fill="#f0a818"/>
<ellipse cx="184.76" cy="123" rx="1.35" ry="0.95" fill="#f0a818"/>
<ellipse cx="195.21" cy="123" rx="1.35" ry="0.95" fill="#f0a818"/>
<ellipse cx="205.67" cy="123" rx="1.35" ry="0.95" fill="#f0a818"/>
<ellipse cx="216.12" cy="123" rx="1.35" ry="0.95" fill="#f0a818"/>
<ellipse cx="226.58" cy="123" rx="1.35" ry="0.95" fill="#f0a818"/>
<ellipse cx="237.03" cy="123" rx="1.35" ry="0.95" fill="#f0a818"/>
<ellipse cx="247.49" cy="123" rx="1.35" ry="0.95" fill="#f0a818"/>
<ellipse cx="257.94" cy="123" rx="1.35" ry="0.95" fill="#f0a818"/>
<path d="M163.85 127.25L165.2 129.1L163.85 130.95L162.5 129.1Z" fill="none" stroke="#62b02c" stroke-width="0.9"/>
<path d="M174.3 139.75L175.65 141.6L174.3 143.45L172.95 141.6Z" fill="none" stroke="#62b02c" stroke-width="0.9"/>
<path d="M184.76 145.75L186.11 147.6L184.76 149.45L183.41 147.6Z" fill="none" stroke="#62b02c" stroke-width="0.9"/>
<path d="M195.21 148.15L196.56 150L195.21 151.85L193.86 150Z" fill="none" stroke="#62b02c" stroke-width="0.9"/>
<path d="M205.67 158.69L207.02 160.54L205.67 162.39L204.32 160.54Z" fill="none" stroke="#62b02c" stroke-width="0.9"/>
<path d="M216.12 160.75L217.47 162.6L216.12 164.45L214.77 162.6Z" fill="none" stroke="#62b02c" stroke-width="0.9"/>
<path d="M226.58 160.75L227.93 162.6L226.58 164.45L225.23 162.6Z" fill="none" stroke="#62b02c" stroke-width="0.9"/>
<path d="M237.03 164.35L238.38 166.2L237.03 168.05L235.68 166.2Z" fill="none" stroke="#62b02c" stroke-width="0.9"/>
<path d="M247.49 167.15L248.84 169L247.49 170.85L246.14 169Z" fill="none" stroke="#62b02c" stroke-width="0.9"/>
<path d="M257.94 167.15L259.29 169L257.94 170.85L256.59 169Z" fill="none" stroke="#62b02c" stroke-width="0.9"/>
<text class="tt" transform="translate(215.08 106.65) scale(1 1.13)" text-anchor="middle">Sub 6</text>
<text class="lb" transform="translate(215.08 193.5) scale(1 1.07)" text-anchor="middle">Number of iterations</text>
<text class="lb" transform="translate(149.24 144) rotate(-90)" text-anchor="middle">Average fitness</text>
<rect x="300.4" y="108.5" width="104.55" height="71" fill="none" stroke="#9d9da4" stroke-width="0.75"/>
<text class="tk" transform="translate(300.4 186.3) scale(1 1.12)" text-anchor="middle">0</text>
<text class="tk" transform="translate(321.31 186.3) scale(1 1.12)" text-anchor="middle">20</text>
<text class="tk" transform="translate(342.22 186.3) scale(1 1.12)" text-anchor="middle">40</text>
<text class="tk" transform="translate(363.13 186.3) scale(1 1.12)" text-anchor="middle">60</text>
<text class="tk" transform="translate(384.04 186.3) scale(1 1.12)" text-anchor="middle">80</text>
<text class="tk" transform="translate(404.95 186.3) scale(1 1.12)" text-anchor="middle">100</text>
<text class="tk" transform="translate(298.4 110.5) scale(1 1.12)" text-anchor="end">0.6</text>
<text class="tk" transform="translate(298.4 122.33) scale(1 1.12)" text-anchor="end">0.55</text>
<text class="tk" transform="translate(298.4 134.17) scale(1 1.12)" text-anchor="end">0.5</text>
<text class="tk" transform="translate(298.4 146) scale(1 1.12)" text-anchor="end">0.45</text>
<text class="tk" transform="translate(298.4 157.83) scale(1 1.12)" text-anchor="end">0.4</text>
<text class="tk" transform="translate(298.4 169.67) scale(1 1.12)" text-anchor="end">0.35</text>
<text class="tk" transform="translate(298.4 181.5) scale(1 1.12)" text-anchor="end">0.3</text>
<path d="M300.4 179.5v-1M300.4 108.5v1M321.31 179.5v-1M321.31 108.5v1M342.22 179.5v-1M342.22 108.5v1M363.13 179.5v-1M363.13 108.5v1M384.04 179.5v-1M384.04 108.5v1M404.95 179.5v-1M404.95 108.5v1M300.4 108.5h1M404.95 108.5h-1M300.4 120.33h1M404.95 120.33h-1M300.4 132.17h1M404.95 132.17h-1M300.4 144h1M404.95 144h-1M300.4 155.83h1M404.95 155.83h-1M300.4 167.67h1M404.95 167.67h-1M300.4 179.5h1M404.95 179.5h-1" stroke="#6a6a6a" stroke-width="0.5" fill="none"/>
<g fill="none" stroke-linejoin="round">
<path d="M301.45 115.6 404.95 115.6" stroke="#80c4ec" stroke-width="1.1"/>
<path d="M301.45 117.4 305.63 125 311.9 130 317.13 130.5 404.95 130.5" stroke="#f4875c" stroke-width="0.85"/>
<path d="M301.45 117.4 306.67 121.5 311.9 124 322.36 125.6 332.81 126.6 404.95 126.8" stroke="#f9cb62" stroke-width="0.85"/>
<path d="M301.45 117.4 306.67 120.5 311.9 121.6 322.36 123 394.49 123 399.72 124.2 404.95 124.4" stroke="#cb98dc" stroke-width="0.9"/>
<path d="M301.45 117.4 304.58 128 307.72 135.5 311.9 142 317.13 147 322.36 151 327.58 155.5 332.81 158.4 338.04 161.5 343.27 164 353.72 165 364.18 165.4 374.63 167 385.09 168 395.54 168.6 404.95 168.6" stroke="#96cc66" stroke-width="0.9"/>
</g>
<circle cx="301.45" cy="117.4" r="1.7" fill="none" stroke="#ea5a28" stroke-width="0.9"/>
<circle cx="311.9" cy="130" r="1.7" fill="none" stroke="#ea5a28" stroke-width="0.9"/>
<circle cx="322.36" cy="130.5" r="1.7" fill="none" stroke="#ea5a28" stroke-width="0.9"/>
<circle cx="332.81" cy="130.5" r="1.7" fill="none" stroke="#ea5a28" stroke-width="0.9"/>
<circle cx="343.27" cy="130.5" r="1.7" fill="none" stroke="#ea5a28" stroke-width="0.9"/>
<circle cx="353.72" cy="130.5" r="1.7" fill="none" stroke="#ea5a28" stroke-width="0.9"/>
<circle cx="364.18" cy="130.5" r="1.7" fill="none" stroke="#ea5a28" stroke-width="0.9"/>
<circle cx="374.63" cy="130.5" r="1.7" fill="none" stroke="#ea5a28" stroke-width="0.9"/>
<circle cx="385.09" cy="130.5" r="1.7" fill="none" stroke="#ea5a28" stroke-width="0.9"/>
<circle cx="395.54" cy="130.5" r="1.7" fill="none" stroke="#ea5a28" stroke-width="0.9"/>
<rect x="300.2" y="116.15" width="2.5" height="2.5" fill="none" stroke="#9a3aa8" stroke-width="0.85"/>
<rect x="310.65" y="120.35" width="2.5" height="2.5" fill="none" stroke="#9a3aa8" stroke-width="0.85"/>
<rect x="321.11" y="121.75" width="2.5" height="2.5" fill="none" stroke="#9a3aa8" stroke-width="0.85"/>
<rect x="331.56" y="121.75" width="2.5" height="2.5" fill="none" stroke="#9a3aa8" stroke-width="0.85"/>
<rect x="342.02" y="121.75" width="2.5" height="2.5" fill="none" stroke="#9a3aa8" stroke-width="0.85"/>
<rect x="352.47" y="121.75" width="2.5" height="2.5" fill="none" stroke="#9a3aa8" stroke-width="0.85"/>
<rect x="362.93" y="121.75" width="2.5" height="2.5" fill="none" stroke="#9a3aa8" stroke-width="0.85"/>
<rect x="373.38" y="121.75" width="2.5" height="2.5" fill="none" stroke="#9a3aa8" stroke-width="0.85"/>
<rect x="383.84" y="121.75" width="2.5" height="2.5" fill="none" stroke="#9a3aa8" stroke-width="0.85"/>
<rect x="394.29" y="121.99" width="2.5" height="2.5" fill="none" stroke="#9a3aa8" stroke-width="0.85"/>
<ellipse cx="301.45" cy="117.4" rx="1.35" ry="0.95" fill="#f0a818"/>
<ellipse cx="311.9" cy="124" rx="1.35" ry="0.95" fill="#f0a818"/>
<ellipse cx="322.36" cy="125.6" rx="1.35" ry="0.95" fill="#f0a818"/>
<ellipse cx="332.81" cy="126.6" rx="1.35" ry="0.95" fill="#f0a818"/>
<ellipse cx="343.27" cy="126.63" rx="1.35" ry="0.95" fill="#f0a818"/>
<ellipse cx="353.72" cy="126.66" rx="1.35" ry="0.95" fill="#f0a818"/>
<ellipse cx="364.18" cy="126.69" rx="1.35" ry="0.95" fill="#f0a818"/>
<ellipse cx="374.63" cy="126.72" rx="1.35" ry="0.95" fill="#f0a818"/>
<ellipse cx="385.09" cy="126.74" rx="1.35" ry="0.95" fill="#f0a818"/>
<ellipse cx="395.54" cy="126.77" rx="1.35" ry="0.95" fill="#f0a818"/>
<path d="M301.45 115.55L302.8 117.4L301.45 119.25L300.1 117.4Z" fill="none" stroke="#62b02c" stroke-width="0.9"/>
<path d="M311.9 140.15L313.25 142L311.9 143.85L310.55 142Z" fill="none" stroke="#62b02c" stroke-width="0.9"/>
<path d="M322.36 149.15L323.71 151L322.36 152.85L321.01 151Z" fill="none" stroke="#62b02c" stroke-width="0.9"/>
<path d="M332.81 156.55L334.16 158.4L332.81 160.25L331.46 158.4Z" fill="none" stroke="#62b02c" stroke-width="0.9"/>
<path d="M343.27 162.15L344.62 164L343.27 165.85L341.92 164Z" fill="none" stroke="#62b02c" stroke-width="0.9"/>
<path d="M353.72 163.15L355.07 165L353.72 166.85L352.37 165Z" fill="none" stroke="#62b02c" stroke-width="0.9"/>
<path d="M364.18 163.55L365.53 165.4L364.18 167.25L362.83 165.4Z" fill="none" stroke="#62b02c" stroke-width="0.9"/>
<path d="M374.63 165.15L375.98 167L374.63 168.85L373.28 167Z" fill="none" stroke="#62b02c" stroke-width="0.9"/>
<path d="M385.09 166.15L386.44 168L385.09 169.85L383.74 168Z" fill="none" stroke="#62b02c" stroke-width="0.9"/>
<path d="M395.54 166.75L396.89 168.6L395.54 170.45L394.19 168.6Z" fill="none" stroke="#62b02c" stroke-width="0.9"/>
<text class="tt" transform="translate(352.67 106.65) scale(1 1.13)" text-anchor="middle">Sub 7</text>
<text class="lb" transform="translate(352.67 193.5) scale(1 1.07)" text-anchor="middle">Number of iterations</text>
<text class="lb" transform="translate(286.84 144) rotate(-90)" text-anchor="middle">Average fitness</text>
<rect x="438.1" y="108.5" width="104.55" height="71" fill="none" stroke="#9d9da4" stroke-width="0.75"/>
<text class="tk" transform="translate(438.1 186.3) scale(1 1.12)" text-anchor="middle">0</text>
<text class="tk" transform="translate(459.01 186.3) scale(1 1.12)" text-anchor="middle">20</text>
<text class="tk" transform="translate(479.92 186.3) scale(1 1.12)" text-anchor="middle">40</text>
<text class="tk" transform="translate(500.83 186.3) scale(1 1.12)" text-anchor="middle">60</text>
<text class="tk" transform="translate(521.74 186.3) scale(1 1.12)" text-anchor="middle">80</text>
<text class="tk" transform="translate(542.65 186.3) scale(1 1.12)" text-anchor="middle">100</text>
<text class="tk" transform="translate(436.1 110.5) scale(1 1.12)" text-anchor="end">0.14</text>
<text class="tk" transform="translate(436.1 124.7) scale(1 1.12)" text-anchor="end">0.12</text>
<text class="tk" transform="translate(436.1 138.9) scale(1 1.12)" text-anchor="end">0.1</text>
<text class="tk" transform="translate(436.1 153.1) scale(1 1.12)" text-anchor="end">0.08</text>
<text class="tk" transform="translate(436.1 167.3) scale(1 1.12)" text-anchor="end">0.06</text>
<text class="tk" transform="translate(436.1 181.5) scale(1 1.12)" text-anchor="end">0.04</text>
<path d="M438.1 179.5v-1M438.1 108.5v1M459.01 179.5v-1M459.01 108.5v1M479.92 179.5v-1M479.92 108.5v1M500.83 179.5v-1M500.83 108.5v1M521.74 179.5v-1M521.74 108.5v1M542.65 179.5v-1M542.65 108.5v1M438.1 108.5h1M542.65 108.5h-1M438.1 122.7h1M542.65 122.7h-1M438.1 136.9h1M542.65 136.9h-1M438.1 151.1h1M542.65 151.1h-1M438.1 165.3h1M542.65 165.3h-1M438.1 179.5h1M542.65 179.5h-1" stroke="#6a6a6a" stroke-width="0.5" fill="none"/>
<g fill="none" stroke-linejoin="round">
<path d="M439.15 123.4 542.65 123.4" stroke="#f4875c" stroke-width="0.85"/>
<path d="M439.15 121.6 542.65 121.6" stroke="#f9cb62" stroke-width="0.85"/>
<path d="M439.15 124.2 542.65 124.2" stroke="#cb98dc" stroke-width="0.9"/>
<path d="M439.15 128 443.33 133 449.6 141.4 452.74 146 454.83 153 457.96 158.5 460.06 162 465.28 166.5 470.51 169.4 475.74 170.2 480.97 170.4 542.65 170.4" stroke="#96cc66" stroke-width="0.9"/>
</g>
<circle cx="439.15" cy="123.4" r="1.7" fill="none" stroke="#ea5a28" stroke-width="0.9"/>
<circle cx="449.6" cy="123.4" r="1.7" fill="none" stroke="#ea5a28" stroke-width="0.9"/>
<circle cx="460.06" cy="123.4" r="1.7" fill="none" stroke="#ea5a28" stroke-width="0.9"/>
<circle cx="470.51" cy="123.4" r="1.7" fill="none" stroke="#ea5a28" stroke-width="0.9"/>
<circle cx="480.97" cy="123.4" r="1.7" fill="none" stroke="#ea5a28" stroke-width="0.9"/>
<circle cx="491.42" cy="123.4" r="1.7" fill="none" stroke="#ea5a28" stroke-width="0.9"/>
<circle cx="501.88" cy="123.4" r="1.7" fill="none" stroke="#ea5a28" stroke-width="0.9"/>
<circle cx="512.33" cy="123.4" r="1.7" fill="none" stroke="#ea5a28" stroke-width="0.9"/>
<circle cx="522.79" cy="123.4" r="1.7" fill="none" stroke="#ea5a28" stroke-width="0.9"/>
<circle cx="533.24" cy="123.4" r="1.7" fill="none" stroke="#ea5a28" stroke-width="0.9"/>
<rect x="437.9" y="122.95" width="2.5" height="2.5" fill="none" stroke="#9a3aa8" stroke-width="0.85"/>
<rect x="448.35" y="122.95" width="2.5" height="2.5" fill="none" stroke="#9a3aa8" stroke-width="0.85"/>
<rect x="458.81" y="122.95" width="2.5" height="2.5" fill="none" stroke="#9a3aa8" stroke-width="0.85"/>
<rect x="469.26" y="122.95" width="2.5" height="2.5" fill="none" stroke="#9a3aa8" stroke-width="0.85"/>
<rect x="479.72" y="122.95" width="2.5" height="2.5" fill="none" stroke="#9a3aa8" stroke-width="0.85"/>
<rect x="490.17" y="122.95" width="2.5" height="2.5" fill="none" stroke="#9a3aa8" stroke-width="0.85"/>
<rect x="500.63" y="122.95" width="2.5" height="2.5" fill="none" stroke="#9a3aa8" stroke-width="0.85"/>
<rect x="511.08" y="122.95" width="2.5" height="2.5" fill="none" stroke="#9a3aa8" stroke-width="0.85"/>
<rect x="521.54" y="122.95" width="2.5" height="2.5" fill="none" stroke="#9a3aa8" stroke-width="0.85"/>
<rect x="531.99" y="122.95" width="2.5" height="2.5" fill="none" stroke="#9a3aa8" stroke-width="0.85"/>
<ellipse cx="439.15" cy="121.6" rx="1.35" ry="0.95" fill="#f0a818"/>
<ellipse cx="449.6" cy="121.6" rx="1.35" ry="0.95" fill="#f0a818"/>
<ellipse cx="460.06" cy="121.6" rx="1.35" ry="0.95" fill="#f0a818"/>
<ellipse cx="470.51" cy="121.6" rx="1.35" ry="0.95" fill="#f0a818"/>
<ellipse cx="480.97" cy="121.6" rx="1.35" ry="0.95" fill="#f0a818"/>
<ellipse cx="491.42" cy="121.6" rx="1.35" ry="0.95" fill="#f0a818"/>
<ellipse cx="501.88" cy="121.6" rx="1.35" ry="0.95" fill="#f0a818"/>
<ellipse cx="512.33" cy="121.6" rx="1.35" ry="0.95" fill="#f0a818"/>
<ellipse cx="522.79" cy="121.6" rx="1.35" ry="0.95" fill="#f0a818"/>
<ellipse cx="533.24" cy="121.6" rx="1.35" ry="0.95" fill="#f0a818"/>
<path d="M439.15 126.15L440.5 128L439.15 129.85L437.8 128Z" fill="none" stroke="#62b02c" stroke-width="0.9"/>
<path d="M449.6 139.55L450.95 141.4L449.6 143.25L448.25 141.4Z" fill="none" stroke="#62b02c" stroke-width="0.9"/>
<path d="M460.06 160.15L461.41 162L460.06 163.85L458.71 162Z" fill="none" stroke="#62b02c" stroke-width="0.9"/>
<path d="M470.51 167.55L471.86 169.4L470.51 171.25L469.16 169.4Z" fill="none" stroke="#62b02c" stroke-width="0.9"/>
<path d="M480.97 168.55L482.32 170.4L480.97 172.25L479.62 170.4Z" fill="none" stroke="#62b02c" stroke-width="0.9"/>
<path d="M491.42 168.55L492.77 170.4L491.42 172.25L490.07 170.4Z" fill="none" stroke="#62b02c" stroke-width="0.9"/>
<path d="M501.88 168.55L503.23 170.4L501.88 172.25L500.53 170.4Z" fill="none" stroke="#62b02c" stroke-width="0.9"/>
<path d="M512.33 168.55L513.68 170.4L512.33 172.25L510.98 170.4Z" fill="none" stroke="#62b02c" stroke-width="0.9"/>
<path d="M522.79 168.55L524.14 170.4L522.79 172.25L521.44 170.4Z" fill="none" stroke="#62b02c" stroke-width="0.9"/>
<path d="M533.24 168.55L534.59 170.4L533.24 172.25L531.89 170.4Z" fill="none" stroke="#62b02c" stroke-width="0.9"/>
<text class="tt" transform="translate(490.38 106.65) scale(1 1.13)" text-anchor="middle">Sub 8</text>
<text class="lb" transform="translate(490.38 193.5) scale(1 1.07)" text-anchor="middle">Number of iterations</text>
<text class="lb" transform="translate(424.54 144) rotate(-90)" text-anchor="middle">Average fitness</text>
<rect x="25.4" y="206.55" width="104.55" height="71" fill="none" stroke="#9d9da4" stroke-width="0.75"/>
<text class="tk" transform="translate(25.4 284.35) scale(1 1.12)" text-anchor="middle">0</text>
<text class="tk" transform="translate(46.31 284.35) scale(1 1.12)" text-anchor="middle">20</text>
<text class="tk" transform="translate(67.22 284.35) scale(1 1.12)" text-anchor="middle">40</text>
<text class="tk" transform="translate(88.13 284.35) scale(1 1.12)" text-anchor="middle">60</text>
<text class="tk" transform="translate(109.04 284.35) scale(1 1.12)" text-anchor="middle">80</text>
<text class="tk" transform="translate(129.95 284.35) scale(1 1.12)" text-anchor="middle">100</text>
<text class="tk" transform="translate(23.4 208.55) scale(1 1.12)" text-anchor="end">0.045</text>
<text class="tk" transform="translate(23.4 222.75) scale(1 1.12)" text-anchor="end">0.04</text>
<text class="tk" transform="translate(23.4 236.95) scale(1 1.12)" text-anchor="end">0.035</text>
<text class="tk" transform="translate(23.4 251.15) scale(1 1.12)" text-anchor="end">0.03</text>
<text class="tk" transform="translate(23.4 265.35) scale(1 1.12)" text-anchor="end">0.025</text>
<text class="tk" transform="translate(23.4 279.55) scale(1 1.12)" text-anchor="end">0.02</text>
<path d="M25.4 277.55v-1M25.4 206.55v1M46.31 277.55v-1M46.31 206.55v1M67.22 277.55v-1M67.22 206.55v1M88.13 277.55v-1M88.13 206.55v1M109.04 277.55v-1M109.04 206.55v1M129.95 277.55v-1M129.95 206.55v1M25.4 206.55h1M129.95 206.55h-1M25.4 220.75h1M129.95 220.75h-1M25.4 234.95h1M129.95 234.95h-1M25.4 249.15h1M129.95 249.15h-1M25.4 263.35h1M129.95 263.35h-1M25.4 277.55h1M129.95 277.55h-1" stroke="#6a6a6a" stroke-width="0.5" fill="none"/>
<g fill="none" stroke-linejoin="round">
<path d="M26.45 221 27.18 226 129.95 226" stroke="#80c4ec" stroke-width="1.1"/>
<path d="M26.45 229.6 27.49 231 28.54 238.3 129.95 238.3" stroke="#f4875c" stroke-width="0.85"/>
<path d="M26.45 217.7 26.97 222 28.01 228 29.37 234 30.63 238.3 129.95 238.3" stroke="#f9cb62" stroke-width="0.85"/>
<path d="M26.45 237.9 27.49 242.5 31.15 242.8 33.55 250.6 129.95 250.6" stroke="#cb98dc" stroke-width="0.9"/>
<path d="M26.45 234.4 27.49 242.5 35.23 242.8 36.9 246.6 38.47 252 40.04 254.3 46.31 254.6 47.36 255.2 49.45 259.1 51.54 266.2 52.58 271.5 55.2 271.8 56.76 275.8 129.95 275.8" stroke="#96cc66" stroke-width="0.9"/>
</g>
<circle cx="26.45" cy="229.6" r="1.7" fill="none" stroke="#ea5a28" stroke-width="0.9"/>
<circle cx="36.9" cy="238.3" r="1.7" fill="none" stroke="#ea5a28" stroke-width="0.9"/>
<circle cx="47.36" cy="238.3" r="1.7" fill="none" stroke="#ea5a28" stroke-width="0.9"/>
<circle cx="57.81" cy="238.3" r="1.7" fill="none" stroke="#ea5a28" stroke-width="0.9"/>
<circle cx="68.27" cy="238.3" r="1.7" fill="none" stroke="#ea5a28" stroke-width="0.9"/>
<circle cx="78.72" cy="238.3" r="1.7" fill="none" stroke="#ea5a28" stroke-width="0.9"/>
<circle cx="89.18" cy="238.3" r="1.7" fill="none" stroke="#ea5a28" stroke-width="0.9"/>
<circle cx="99.63" cy="238.3" r="1.7" fill="none" stroke="#ea5a28" stroke-width="0.9"/>
<circle cx="110.09" cy="238.3" r="1.7" fill="none" stroke="#ea5a28" stroke-width="0.9"/>
<circle cx="120.54" cy="238.3" r="1.7" fill="none" stroke="#ea5a28" stroke-width="0.9"/>
<rect x="25.2" y="236.65" width="2.5" height="2.5" fill="none" stroke="#9a3aa8" stroke-width="0.85"/>
<rect x="35.65" y="249.35" width="2.5" height="2.5" fill="none" stroke="#9a3aa8" stroke-width="0.85"/>
<rect x="46.11" y="249.35" width="2.5" height="2.5" fill="none" stroke="#9a3aa8" stroke-width="0.85"/>
<rect x="56.56" y="249.35" width="2.5" height="2.5" fill="none" stroke="#9a3aa8" stroke-width="0.85"/>
<rect x="67.02" y="249.35" width="2.5" height="2.5" fill="none" stroke="#9a3aa8" stroke-width="0.85"/>
<rect x="77.47" y="249.35" width="2.5" height="2.5" fill="none" stroke="#9a3aa8" stroke-width="0.85"/>
<rect x="87.93" y="249.35" width="2.5" height="2.5" fill="none" stroke="#9a3aa8" stroke-width="0.85"/>
<rect x="98.38" y="249.35" width="2.5" height="2.5" fill="none" stroke="#9a3aa8" stroke-width="0.85"/>
<rect x="108.84" y="249.35" width="2.5" height="2.5" fill="none" stroke="#9a3aa8" stroke-width="0.85"/>
<rect x="119.29" y="249.35" width="2.5" height="2.5" fill="none" stroke="#9a3aa8" stroke-width="0.85"/>
<ellipse cx="26.45" cy="217.7" rx="1.35" ry="0.95" fill="#f0a818"/>
<ellipse cx="36.9" cy="238.3" rx="1.35" ry="0.95" fill="#f0a818"/>
<ellipse cx="47.36" cy="238.3" rx="1.35" ry="0.95" fill="#f0a818"/>
<ellipse cx="57.81" cy="238.3" rx="1.35" ry="0.95" fill="#f0a818"/>
<ellipse cx="68.27" cy="238.3" rx="1.35" ry="0.95" fill="#f0a818"/>
<ellipse cx="78.72" cy="238.3" rx="1.35" ry="0.95" fill="#f0a818"/>
<ellipse cx="89.18" cy="238.3" rx="1.35" ry="0.95" fill="#f0a818"/>
<ellipse cx="99.63" cy="238.3" rx="1.35" ry="0.95" fill="#f0a818"/>
<ellipse cx="110.09" cy="238.3" rx="1.35" ry="0.95" fill="#f0a818"/>
<ellipse cx="120.54" cy="238.3" rx="1.35" ry="0.95" fill="#f0a818"/>
<path d="M26.45 232.55L27.8 234.4L26.45 236.25L25.1 234.4Z" fill="none" stroke="#62b02c" stroke-width="0.9"/>
<path d="M36.9 244.75L38.25 246.6L36.9 248.45L35.55 246.6Z" fill="none" stroke="#62b02c" stroke-width="0.9"/>
<path d="M47.36 253.35L48.71 255.2L47.36 257.05L46.01 255.2Z" fill="none" stroke="#62b02c" stroke-width="0.9"/>
<path d="M57.81 273.95L59.16 275.8L57.81 277.65L56.46 275.8Z" fill="none" stroke="#62b02c" stroke-width="0.9"/>
<path d="M68.27 273.95L69.62 275.8L68.27 277.65L66.92 275.8Z" fill="none" stroke="#62b02c" stroke-width="0.9"/>
<path d="M78.72 273.95L80.07 275.8L78.72 277.65L77.37 275.8Z" fill="none" stroke="#62b02c" stroke-width="0.9"/>
<path d="M89.18 273.95L90.53 275.8L89.18 277.65L87.83 275.8Z" fill="none" stroke="#62b02c" stroke-width="0.9"/>
<path d="M99.63 273.95L100.98 275.8L99.63 277.65L98.28 275.8Z" fill="none" stroke="#62b02c" stroke-width="0.9"/>
<path d="M110.09 273.95L111.44 275.8L110.09 277.65L108.74 275.8Z" fill="none" stroke="#62b02c" stroke-width="0.9"/>
<path d="M120.54 273.95L121.89 275.8L120.54 277.65L119.19 275.8Z" fill="none" stroke="#62b02c" stroke-width="0.9"/>
<text class="tt" transform="translate(77.67 204.7) scale(1 1.13)" text-anchor="middle">Sub 9</text>
<text class="lb" transform="translate(77.67 291.55) scale(1 1.07)" text-anchor="middle">Number of iterations</text>
<text class="lb" transform="translate(9.37 242.05) rotate(-90)" text-anchor="middle">Average fitness</text>
<rect x="162.8" y="206.55" width="104.55" height="71" fill="none" stroke="#9d9da4" stroke-width="0.75"/>
<text class="tk" transform="translate(162.8 284.35) scale(1 1.12)" text-anchor="middle">0</text>
<text class="tk" transform="translate(183.71 284.35) scale(1 1.12)" text-anchor="middle">20</text>
<text class="tk" transform="translate(204.62 284.35) scale(1 1.12)" text-anchor="middle">40</text>
<text class="tk" transform="translate(225.53 284.35) scale(1 1.12)" text-anchor="middle">60</text>
<text class="tk" transform="translate(246.44 284.35) scale(1 1.12)" text-anchor="middle">80</text>
<text class="tk" transform="translate(267.35 284.35) scale(1 1.12)" text-anchor="middle">100</text>
<text class="tk" transform="translate(160.8 208.55) scale(1 1.12)" text-anchor="end">0.6</text>
<text class="tk" transform="translate(160.8 222.75) scale(1 1.12)" text-anchor="end">0.55</text>
<text class="tk" transform="translate(160.8 236.95) scale(1 1.12)" text-anchor="end">0.5</text>
<text class="tk" transform="translate(160.8 251.15) scale(1 1.12)" text-anchor="end">0.45</text>
<text class="tk" transform="translate(160.8 265.35) scale(1 1.12)" text-anchor="end">0.4</text>
<text class="tk" transform="translate(160.8 279.55) scale(1 1.12)" text-anchor="end">0.35</text>
<path d="M162.8 277.55v-1M162.8 206.55v1M183.71 277.55v-1M183.71 206.55v1M204.62 277.55v-1M204.62 206.55v1M225.53 277.55v-1M225.53 206.55v1M246.44 277.55v-1M246.44 206.55v1M267.35 277.55v-1M267.35 206.55v1M162.8 206.55h1M267.35 206.55h-1M162.8 220.75h1M267.35 220.75h-1M162.8 234.95h1M267.35 234.95h-1M162.8 249.15h1M267.35 249.15h-1M162.8 263.35h1M267.35 263.35h-1M162.8 277.55h1M267.35 277.55h-1" stroke="#6a6a6a" stroke-width="0.5" fill="none"/>
<g fill="none" stroke-linejoin="round">
<path d="M163.85 214.4 267.35 214.4" stroke="#80c4ec" stroke-width="1.1"/>
<path d="M163.85 216.4 166.98 224 171.16 229.5 267.35 229.5" stroke="#f4875c" stroke-width="0.85"/>
<path d="M163.85 214.4 165.94 219 169.07 221.3 174.3 222.4 184.76 223.3 215.07 223.6 267.35 223.8" stroke="#f9cb62" stroke-width="0.85"/>
<path d="M163.85 216.4 165.94 218.6 267.35 218.6" stroke="#cb98dc" stroke-width="0.9"/>
<path d="M163.85 228 169.07 238.5 174.3 248.4 179.53 257 184.76 264 189.98 270 195.21 274 200.44 275.5 205.67 276 216.12 276.6 226.58 277.3 267.35 277.3" stroke="#96cc66" stroke-width="0.9"/>
</g>
<circle cx="163.85" cy="216.4" r="1.7" fill="none" stroke="#ea5a28" stroke-width="0.9"/>
<circle cx="174.3" cy="229.5" r="1.7" fill="none" stroke="#ea5a28" stroke-width="0.9"/>
<circle cx="184.76" cy="229.5" r="1.7" fill="none" stroke="#ea5a28" stroke-width="0.9"/>
<circle cx="195.21" cy="229.5" r="1.7" fill="none" stroke="#ea5a28" stroke-width="0.9"/>
<circle cx="205.67" cy="229.5" r="1.7" fill="none" stroke="#ea5a28" stroke-width="0.9"/>
<circle cx="216.12" cy="229.5" r="1.7" fill="none" stroke="#ea5a28" stroke-width="0.9"/>
<circle cx="226.58" cy="229.5" r="1.7" fill="none" stroke="#ea5a28" stroke-width="0.9"/>
<circle cx="237.03" cy="229.5" r="1.7" fill="none" stroke="#ea5a28" stroke-width="0.9"/>
<circle cx="247.49" cy="229.5" r="1.7" fill="none" stroke="#ea5a28" stroke-width="0.9"/>
<circle cx="257.94" cy="229.5" r="1.7" fill="none" stroke="#ea5a28" stroke-width="0.9"/>
<rect x="162.6" y="215.15" width="2.5" height="2.5" fill="none" stroke="#9a3aa8" stroke-width="0.85"/>
<rect x="173.05" y="217.35" width="2.5" height="2.5" fill="none" stroke="#9a3aa8" stroke-width="0.85"/>
<rect x="183.51" y="217.35" width="2.5" height="2.5" fill="none" stroke="#9a3aa8" stroke-width="0.85"/>
<rect x="193.96" y="217.35" width="2.5" height="2.5" fill="none" stroke="#9a3aa8" stroke-width="0.85"/>
<rect x="204.42" y="217.35" width="2.5" height="2.5" fill="none" stroke="#9a3aa8" stroke-width="0.85"/>
<rect x="214.87" y="217.35" width="2.5" height="2.5" fill="none" stroke="#9a3aa8" stroke-width="0.85"/>
<rect x="225.33" y="217.35" width="2.5" height="2.5" fill="none" stroke="#9a3aa8" stroke-width="0.85"/>
<rect x="235.78" y="217.35" width="2.5" height="2.5" fill="none" stroke="#9a3aa8" stroke-width="0.85"/>
<rect x="246.24" y="217.35" width="2.5" height="2.5" fill="none" stroke="#9a3aa8" stroke-width="0.85"/>
<rect x="256.69" y="217.35" width="2.5" height="2.5" fill="none" stroke="#9a3aa8" stroke-width="0.85"/>
<ellipse cx="163.85" cy="214.4" rx="1.35" ry="0.95" fill="#f0a818"/>
<ellipse cx="174.3" cy="222.4" rx="1.35" ry="0.95" fill="#f0a818"/>
<ellipse cx="184.76" cy="223.3" rx="1.35" ry="0.95" fill="#f0a818"/>
<ellipse cx="195.21" cy="223.4" rx="1.35" ry="0.95" fill="#f0a818"/>
<ellipse cx="205.67" cy="223.51" rx="1.35" ry="0.95" fill="#f0a818"/>
<ellipse cx="216.12" cy="223.6" rx="1.35" ry="0.95" fill="#f0a818"/>
<ellipse cx="226.58" cy="223.64" rx="1.35" ry="0.95" fill="#f0a818"/>
<ellipse cx="237.03" cy="223.68" rx="1.35" ry="0.95" fill="#f0a818"/>
<ellipse cx="247.49" cy="223.72" rx="1.35" ry="0.95" fill="#f0a818"/>
<ellipse cx="257.94" cy="223.76" rx="1.35" ry="0.95" fill="#f0a818"/>
<path d="M163.85 226.15L165.2 228L163.85 229.85L162.5 228Z" fill="none" stroke="#62b02c" stroke-width="0.9"/>
<path d="M174.3 246.55L175.65 248.4L174.3 250.25L172.95 248.4Z" fill="none" stroke="#62b02c" stroke-width="0.9"/>
<path d="M184.76 262.15L186.11 264L184.76 265.85L183.41 264Z" fill="none" stroke="#62b02c" stroke-width="0.9"/>
<path d="M195.21 272.15L196.56 274L195.21 275.85L193.86 274Z" fill="none" stroke="#62b02c" stroke-width="0.9"/>
<path d="M205.67 274.15L207.02 276L205.67 277.85L204.32 276Z" fill="none" stroke="#62b02c" stroke-width="0.9"/>
<path d="M216.12 274.75L217.47 276.6L216.12 278.45L214.77 276.6Z" fill="none" stroke="#62b02c" stroke-width="0.9"/>
<path d="M226.58 275.45L227.93 277.3L226.58 279.15L225.23 277.3Z" fill="none" stroke="#62b02c" stroke-width="0.9"/>
<path d="M237.03 275.45L238.38 277.3L237.03 279.15L235.68 277.3Z" fill="none" stroke="#62b02c" stroke-width="0.9"/>
<path d="M247.49 275.45L248.84 277.3L247.49 279.15L246.14 277.3Z" fill="none" stroke="#62b02c" stroke-width="0.9"/>
<path d="M257.94 275.45L259.29 277.3L257.94 279.15L256.59 277.3Z" fill="none" stroke="#62b02c" stroke-width="0.9"/>
<text class="tt" transform="translate(215.08 204.7) scale(1 1.13)" text-anchor="middle">Sub 10</text>
<text class="lb" transform="translate(215.08 291.55) scale(1 1.07)" text-anchor="middle">Number of iterations</text>
<text class="lb" transform="translate(149.24 242.05) rotate(-90)" text-anchor="middle">Average fitness</text>
<rect x="300.4" y="206.55" width="104.55" height="71" fill="none" stroke="#9d9da4" stroke-width="0.75"/>
<text class="tk" transform="translate(300.4 284.35) scale(1 1.12)" text-anchor="middle">0</text>
<text class="tk" transform="translate(321.31 284.35) scale(1 1.12)" text-anchor="middle">20</text>
<text class="tk" transform="translate(342.22 284.35) scale(1 1.12)" text-anchor="middle">40</text>
<text class="tk" transform="translate(363.13 284.35) scale(1 1.12)" text-anchor="middle">60</text>
<text class="tk" transform="translate(384.04 284.35) scale(1 1.12)" text-anchor="middle">80</text>
<text class="tk" transform="translate(404.95 284.35) scale(1 1.12)" text-anchor="middle">100</text>
<text class="tk" transform="translate(298.4 208.55) scale(1 1.12)" text-anchor="end">0.09</text>
<text class="tk" transform="translate(298.4 222.75) scale(1 1.12)" text-anchor="end">0.085</text>
<text class="tk" transform="translate(298.4 236.95) scale(1 1.12)" text-anchor="end">0.08</text>
<text class="tk" transform="translate(298.4 251.15) scale(1 1.12)" text-anchor="end">0.075</text>
<text class="tk" transform="translate(298.4 265.35) scale(1 1.12)" text-anchor="end">0.07</text>
<text class="tk" transform="translate(298.4 279.55) scale(1 1.12)" text-anchor="end">0.065</text>
<path d="M300.4 277.55v-1M300.4 206.55v1M321.31 277.55v-1M321.31 206.55v1M342.22 277.55v-1M342.22 206.55v1M363.13 277.55v-1M363.13 206.55v1M384.04 277.55v-1M384.04 206.55v1M404.95 277.55v-1M404.95 206.55v1M300.4 206.55h1M404.95 206.55h-1M300.4 220.75h1M404.95 220.75h-1M300.4 234.95h1M404.95 234.95h-1M300.4 249.15h1M404.95 249.15h-1M300.4 263.35h1M404.95 263.35h-1M300.4 277.55h1M404.95 277.55h-1" stroke="#6a6a6a" stroke-width="0.5" fill="none"/>
<g fill="none" stroke-linejoin="round">
<path d="M301.45 211.4 404.95 211.4" stroke="#f4875c" stroke-width="0.85"/>
<path d="M301.45 211.4 404.95 211.4" stroke="#f9cb62" stroke-width="0.85"/>
<path d="M301.45 211.4 404.95 211.4" stroke="#cb98dc" stroke-width="0.9"/>
<path d="M301.45 211.4 309.81 211.4 311.9 228.4 316.08 228.4 322.36 241 323.09 245 335.42 245 335.95 257.2 366.27 257.2 367.31 261.6 375.89 261.6 376.72 266 404.95 266" stroke="#96cc66" stroke-width="0.9"/>
</g>
<circle cx="301.45" cy="211.4" r="1.7" fill="none" stroke="#ea5a28" stroke-width="0.9"/>
<circle cx="311.9" cy="211.4" r="1.7" fill="none" stroke="#ea5a28" stroke-width="0.9"/>
<circle cx="322.36" cy="211.4" r="1.7" fill="none" stroke="#ea5a28" stroke-width="0.9"/>
<circle cx="332.81" cy="211.4" r="1.7" fill="none" stroke="#ea5a28" stroke-width="0.9"/>
<circle cx="343.27" cy="211.4" r="1.7" fill="none" stroke="#ea5a28" stroke-width="0.9"/>
<circle cx="353.72" cy="211.4" r="1.7" fill="none" stroke="#ea5a28" stroke-width="0.9"/>
<circle cx="364.18" cy="211.4" r="1.7" fill="none" stroke="#ea5a28" stroke-width="0.9"/>
<circle cx="374.63" cy="211.4" r="1.7" fill="none" stroke="#ea5a28" stroke-width="0.9"/>
<circle cx="385.09" cy="211.4" r="1.7" fill="none" stroke="#ea5a28" stroke-width="0.9"/>
<circle cx="395.54" cy="211.4" r="1.7" fill="none" stroke="#ea5a28" stroke-width="0.9"/>
<rect x="300.2" y="210.15" width="2.5" height="2.5" fill="none" stroke="#9a3aa8" stroke-width="0.85"/>
<rect x="310.65" y="210.15" width="2.5" height="2.5" fill="none" stroke="#9a3aa8" stroke-width="0.85"/>
<rect x="321.11" y="210.15" width="2.5" height="2.5" fill="none" stroke="#9a3aa8" stroke-width="0.85"/>
<rect x="331.56" y="210.15" width="2.5" height="2.5" fill="none" stroke="#9a3aa8" stroke-width="0.85"/>
<rect x="342.02" y="210.15" width="2.5" height="2.5" fill="none" stroke="#9a3aa8" stroke-width="0.85"/>
<rect x="352.47" y="210.15" width="2.5" height="2.5" fill="none" stroke="#9a3aa8" stroke-width="0.85"/>
<rect x="362.93" y="210.15" width="2.5" height="2.5" fill="none" stroke="#9a3aa8" stroke-width="0.85"/>
<rect x="373.38" y="210.15" width="2.5" height="2.5" fill="none" stroke="#9a3aa8" stroke-width="0.85"/>
<rect x="383.84" y="210.15" width="2.5" height="2.5" fill="none" stroke="#9a3aa8" stroke-width="0.85"/>
<rect x="394.29" y="210.15" width="2.5" height="2.5" fill="none" stroke="#9a3aa8" stroke-width="0.85"/>
<ellipse cx="301.45" cy="211.4" rx="1.35" ry="0.95" fill="#f0a818"/>
<ellipse cx="311.9" cy="211.4" rx="1.35" ry="0.95" fill="#f0a818"/>
<ellipse cx="322.36" cy="211.4" rx="1.35" ry="0.95" fill="#f0a818"/>
<ellipse cx="332.81" cy="211.4" rx="1.35" ry="0.95" fill="#f0a818"/>
<ellipse cx="343.27" cy="211.4" rx="1.35" ry="0.95" fill="#f0a818"/>
<ellipse cx="353.72" cy="211.4" rx="1.35" ry="0.95" fill="#f0a818"/>
<ellipse cx="364.18" cy="211.4" rx="1.35" ry="0.95" fill="#f0a818"/>
<ellipse cx="374.63" cy="211.4" rx="1.35" ry="0.95" fill="#f0a818"/>
<ellipse cx="385.09" cy="211.4" rx="1.35" ry="0.95" fill="#f0a818"/>
<ellipse cx="395.54" cy="211.4" rx="1.35" ry="0.95" fill="#f0a818"/>
<path d="M301.45 209.55L302.8 211.4L301.45 213.25L300.1 211.4Z" fill="none" stroke="#62b02c" stroke-width="0.9"/>
<path d="M311.9 226.55L313.25 228.4L311.9 230.25L310.55 228.4Z" fill="none" stroke="#62b02c" stroke-width="0.9"/>
<path d="M322.36 239.15L323.71 241L322.36 242.85L321.01 241Z" fill="none" stroke="#62b02c" stroke-width="0.9"/>
<path d="M332.81 243.15L334.16 245L332.81 246.85L331.46 245Z" fill="none" stroke="#62b02c" stroke-width="0.9"/>
<path d="M343.27 255.35L344.62 257.2L343.27 259.05L341.92 257.2Z" fill="none" stroke="#62b02c" stroke-width="0.9"/>
<path d="M353.72 255.35L355.07 257.2L353.72 259.05L352.37 257.2Z" fill="none" stroke="#62b02c" stroke-width="0.9"/>
<path d="M364.18 255.35L365.53 257.2L364.18 259.05L362.83 257.2Z" fill="none" stroke="#62b02c" stroke-width="0.9"/>
<path d="M374.63 259.75L375.98 261.6L374.63 263.45L373.28 261.6Z" fill="none" stroke="#62b02c" stroke-width="0.9"/>
<path d="M385.09 264.15L386.44 266L385.09 267.85L383.74 266Z" fill="none" stroke="#62b02c" stroke-width="0.9"/>
<path d="M395.54 264.15L396.89 266L395.54 267.85L394.19 266Z" fill="none" stroke="#62b02c" stroke-width="0.9"/>
<text class="tt" transform="translate(352.67 204.7) scale(1 1.13)" text-anchor="middle">Sub 11</text>
<text class="lb" transform="translate(352.67 291.55) scale(1 1.07)" text-anchor="middle">Number of iterations</text>
<text class="lb" transform="translate(284.37 242.05) rotate(-90)" text-anchor="middle">Average fitness</text>
<rect x="192.6" y="299.7" width="183.4" height="10.8" fill="#fff" stroke="#8a8a8a" stroke-width="0.7"/>
<path d="M194.5 304.4H207.6" stroke="#80c4ec" stroke-width="0.8"/>
<text class="lg" x="209" y="307.6">BDE</text>
<path d="M226.4 304.4H239.5" stroke="#f4875c" stroke-width="0.8"/>
<circle cx="232.95" cy="304.4" r="1.3" fill="#fff" stroke="#ea5a28" stroke-width="0.8"/>
<text class="lg" x="241" y="307.6">GA</text>
<path d="M254.5 304.4H267.6" stroke="#f9cb62" stroke-width="0.8"/>
<circle cx="261.05" cy="304.4" r="0.9" fill="#f0a818"/>
<text class="lg" x="268.5" y="307.6">BPSO</text>
<path d="M291.3 304.4H304.4" stroke="#cb98dc" stroke-width="0.8"/>
<circle cx="297.85" cy="304.4" r="1.0" fill="#9a3aa8"/>
<text class="lg" x="305.8" y="307.6">MBTGA</text>
<path d="M334.5 304.4H347.6" stroke="#96cc66" stroke-width="0.8"/>
<path d="M341.05 303.1l1 1.3l-1 1.3l-1 -1.3z" fill="#96cc66" stroke="#62b02c" stroke-width="0.6"/>
<text class="lg" x="349" y="307.6">PBPSO</text>
</svg></body></html>
